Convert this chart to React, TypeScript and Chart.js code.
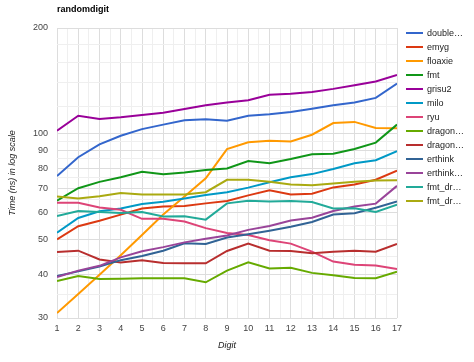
import { useEffect, useRef } from 'react';
import { Chart, registerables } from 'chart.js';

Chart.register(...registerables);

const digits = [1, 2, 3, 4, 5, 6, 7, 8, 9, 10, 11, 12, 13, 14, 15, 16, 17];

const seriesLabels = [
  'double…', 'emyg', 'floaxie', 'fmt', 'grisu2', 'milo', 'ryu',
  'dragon…', 'dragon…', 'erthink', 'erthink…', 'fmt_dr…', 'fmt_dr…',
];

const seriesColors = [
  '#3366cc', '#dc3912', '#ff9900', '#109618', '#990099', '#0099c6', '#dd4477',
  '#66aa00', '#b82e2e', '#316395', '#994499', '#22aa99', '#aaaa11',
];

const doubleConversion = [75.9, 85.9, 93.4, 98.8, 103.2, 106.3, 109.4, 110.1, 109.1, 112.7, 113.8, 115.4, 118, 120.7, 122.8, 126.6, 139];
const emyg = [50.2, 54.7, 56.7, 59, 61.4, 62.2, 62.4, 63.5, 64.5, 66.9, 69.2, 67.3, 67.6, 70.5, 71.8, 74.1, 78.7];
const floaxie = [31, 35.1, 39.8, 45.2, 51.6, 59, 66.4, 74.8, 90.6, 94.7, 95.6, 95.2, 99.5, 107.4, 108.2, 104, 103.8];
const fmt = [64.6, 70.1, 73.1, 75.3, 78.1, 76.8, 77.7, 79, 79.8, 83.8, 82.6, 84.9, 87.6, 87.8, 90.6, 94.5, 106.3];
const grisu2 = [102.1, 112.7, 110.3, 111.5, 113.2, 114.9, 117.8, 120.7, 122.8, 124.7, 129.2, 130, 131.5, 134.3, 137.6, 141, 147];
const milo = [52.4, 57.7, 60.3, 61.4, 63.2, 64.2, 65.6, 67.1, 68.3, 70.4, 72.9, 75.3, 76.9, 79.5, 82.6, 84.2, 89.4];
const ryu = [63.8, 63.8, 61.8, 60.9, 57.4, 57.4, 56.4, 54, 52.3, 51.6, 49.9, 48.8, 46.3, 43.4, 42.5, 42.3, 41.3];
const dragonA = [38.2, 39.5, 38.7, 38.8, 38.9, 38.9, 38.9, 37.9, 40.9, 43.2, 41.5, 41.7, 40.3, 39.7, 39, 38.9, 40.6];
const dragonB = [46.2, 46.6, 44, 43.1, 43.8, 43, 42.9, 42.9, 46.5, 48.8, 46.6, 46.5, 45.8, 46.3, 46.6, 46.3, 48.7];
const erthink = [39.5, 40.7, 42, 43.8, 45, 46.6, 48.9, 48.7, 50.8, 51.9, 53.1, 54.5, 56.2, 59, 59.5, 61.7, 64.3];
const erthinkB = [39.2, 40.9, 42.2, 44.6, 46.4, 47.7, 49.2, 50.4, 51.5, 53.4, 54.8, 56.8, 57.8, 60.4, 62.2, 63.4, 71.2];
const fmtDrA = [58.5, 60.4, 60, 59.6, 60, 58.3, 58.4, 57.1, 63.5, 64.6, 64.3, 64.5, 64.1, 61.4, 61.5, 60, 63];
const fmtDrB = [66.4, 65.6, 66.5, 68, 67.3, 67.3, 67.3, 68.3, 74.1, 74.1, 73.1, 71.9, 71.5, 72.3, 73.1, 73.7, 73.9];

const seriesValues = [
  doubleConversion, emyg, floaxie, fmt, grisu2, milo, ryu,
  dragonA, dragonB, erthink, erthinkB, fmtDrA, fmtDrB,
];

const yMajorTicks = [30, 40, 50, 60, 70, 80, 90, 100, 200];
const yMinorTicks = [35, 45, 55, 65, 75, 85, 95, 120, 140, 160, 180];

const FONT = '"Liberation Sans", Arial, sans-serif';

const sideLegend = {
  id: 'sideLegend',
  afterDraw(chart: any) {
    const { ctx, chartArea } = chart;
    ctx.save();
    ctx.font = `9px ${FONT}`;
    ctx.textBaseline = 'middle';
    ctx.textAlign = 'left';
    chart.data.datasets.forEach((ds: any, i: number) => {
      const y = Math.round(chartArea.top + 4.5 + i * 14) + 0.5;
      const x0 = chartArea.right + 9;
      ctx.strokeStyle = ds.borderColor;
      ctx.lineWidth = 2;
      ctx.beginPath();
      ctx.moveTo(x0, y - 0.5);
      ctx.lineTo(x0 + 17, y - 0.5);
      ctx.stroke();
      ctx.fillStyle = '#222222';
      ctx.fillText(ds.label, x0 + 21, y);
    });
    ctx.restore();
  },
};

export default function App() {
  const ref = useRef<HTMLCanvasElement>(null);

  useEffect(() => {
    document.body.style.margin = '0';
    const n = seriesValues.length;
    const chart = new Chart(ref.current as HTMLCanvasElement, {
      type: 'line',
      data: {
        datasets: seriesValues.map((vals, i) => ({
          label: seriesLabels[i],
          data: vals.map((v, j) => ({ x: digits[j], y: v })),
          borderColor: seriesColors[i],
          backgroundColor: seriesColors[i],
          borderWidth: 2,
          pointRadius: 0,
          tension: 0,
          fill: false,
          order: n - i,
        })),
      },
      options: {
        animation: false,
        responsive: false,
        layout: { padding: { left: 0, right: 77, top: 0, bottom: 0 } },
        plugins: {
          legend: { display: false },
          tooltip: { enabled: false },
          title: {
            display: true,
            text: 'randomdigit',
            align: 'start',
            fullSize: false,
            color: '#000000',
            font: { family: FONT, size: 9, weight: 'bold' },
            padding: { top: 4.6, bottom: 12.6 },
          },
        },
        scales: {
          x: {
            type: 'linear',
            min: 1,
            max: 17,
            afterBuildTicks: (scale: any) => {
              const t: { value: number }[] = [];
              digits.forEach((d, i) => {
                t.push({ value: d });
                if (i < digits.length - 1) t.push({ value: d + 0.5 });
              });
              scale.ticks = t;
            },
            afterFit: (scale: any) => {
              scale.height = 44;
            },
            ticks: {
              autoSkip: false,
              maxRotation: 0,
              padding: 5,
              color: '#444444',
              font: { family: FONT, size: 9 },
              callback: (v: any) => (Number.isInteger(v) ? String(v) : ''),
            },
            grid: {
              drawTicks: false,
              color: (c: any) => (Number.isInteger(c.tick?.value) ? '#dddddd' : '#efefef'),
            },
            border: { display: false },
            title: {
              display: true,
              text: 'Digit',
              color: '#222222',
              font: { family: FONT, size: 9, style: 'italic' },
              padding: { top: 0, bottom: 11.6 },
            },
          },
          y: {
            type: 'logarithmic',
            min: 30,
            max: 200,
            afterBuildTicks: (scale: any) => {
              scale.ticks = [...yMinorTicks, ...yMajorTicks]
                .sort((a, b) => a - b)
                .map((v) => ({ value: v }));
            },
            afterFit: (scale: any) => {
              scale.width = 57;
            },
            ticks: {
              autoSkip: false,
              padding: 9,
              color: '#444444',
              font: { family: FONT, size: 9 },
              callback: (v: any) => (yMajorTicks.includes(v) ? String(v) : ''),
            },
            grid: {
              drawTicks: false,
              color: (c: any) => (yMajorTicks.includes(c.tick?.value) ? '#dddddd' : '#efefef'),
            },
            border: { display: false },
            title: {
              display: true,
              text: 'Time (ns) in log scale',
              color: '#222222',
              font: { family: FONT, size: 9, style: 'italic' },
              padding: { top: 6.6, bottom: 0 },
            },
          },
        },
      },
      plugins: [sideLegend],
    });
    return () => chart.destroy();
  }, []);

  return (
    <div style={{ width: 474, height: 362 }}>
      <canvas ref={ref} width={474} height={362} style={{ display: 'block' }} />
    </div>
  );
}
